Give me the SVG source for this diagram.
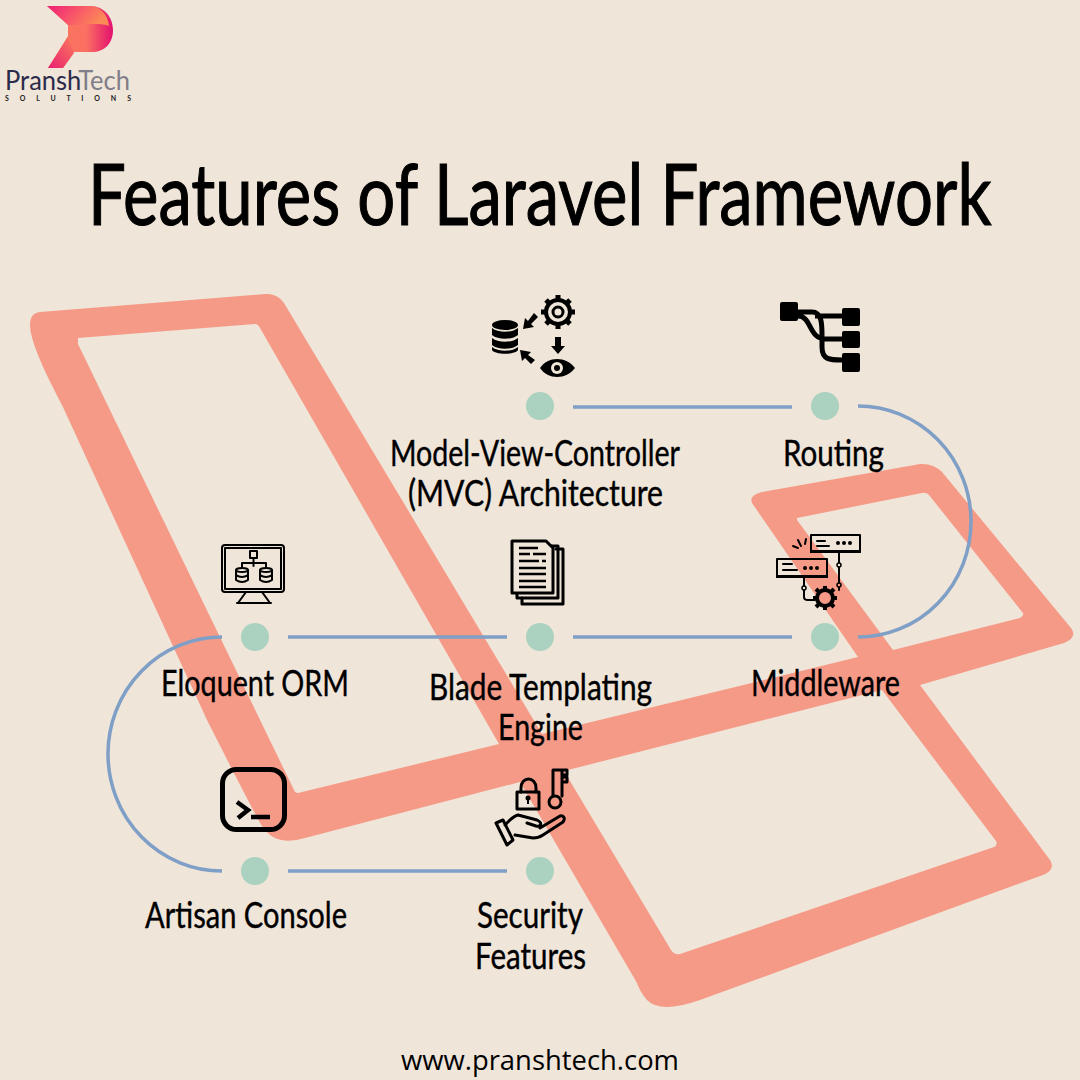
<svg xmlns="http://www.w3.org/2000/svg" width="1080" height="1080" viewBox="0 0 1080 1080">
<style>
.t{font-family:"Lato","Liberation Sans",sans-serif;fill:#000;stroke:#000;stroke-width:.4}
.l{font-size:36px;text-anchor:start}
.c{fill:none;stroke:#7f9fc6;stroke-width:3.5}
.d{fill:#abd2c0}
.i{fill:none;stroke:#000;stroke-width:3;stroke-linejoin:round;stroke-linecap:round}
.f{fill:#000}
</style>
<defs>
<linearGradient id="g0" x1="0" y1="0" x2="1" y2="0"><stop offset="0" stop-color="#fb7a5c"/><stop offset=".6" stop-color="#fa6f62"/><stop offset="1" stop-color="#e4106f"/></linearGradient>
<linearGradient id="g1" x1="0" y1="0" x2="1" y2="0.3"><stop offset="0" stop-color="#ef1f78"/><stop offset=".6" stop-color="#f95f66"/><stop offset="1" stop-color="#fb8a58"/></linearGradient>
<linearGradient id="g2" x1="0" y1="1" x2="1" y2="0"><stop offset="0" stop-color="#e91f72"/><stop offset="1" stop-color="#fb7a5c"/></linearGradient>
</defs>
<rect width="1080" height="1080" fill="#efe5d9"/>
<path id="laravel-shape" fill="#f69a88" fill-rule="evenodd" d="M40 312L265 294Q277 293 284 303L542 734L858 657L752 503Q749 495 762 492L920 464Q933 463 942 472L1071 628Q1078 637 1064 643L920 685L1050 860Q1056 870 1043 875L700 1000Q660 1014 647 1000Q640 992 637 983L520 782L305 838Q275 847 262 826Q255 815 207 720L62 405Q30 345 30 325Q30 313 40 312Z
M78 338L255 324Q258 324 260 328L499 744L298 793Q295 793 294 790L78 344Z
M797 518L922 493Q926 492 929 495L1023 613Q1024 616 1020 618L893 650L797 520Z
M564 771L882 690L996 841Q998 845 994 847L680 954Q674 955 671 950Z"/>
<g id="logo">
<path fill="url(#g0)" d="M47 6H90C105 6 113 18 113 30C113 44 104 52 92 52H74L63 68H48L68 36V25Z"/>
<path fill="url(#g1)" d="M47 6H90C100 6 108 15 109 26C100 22 85 25 68 25Z"/>
<path fill="url(#g2)" d="M48 68L68 37L74 53L63 68Z"/>
<text x="5" y="90" font-family="Lato,sans-serif" font-size="26" textLength="125" lengthAdjust="spacingAndGlyphs"><tspan fill="#2c2a4a">Pransh</tspan><tspan fill="#807e88">Tech</tspan></text>
<text x="5" y="101" font-family="Lato,sans-serif" font-size="7" font-weight="700" fill="#222" textLength="126">S O L U T I O N S</text>
</g>
<text transform="translate(88 225) scale(.85 1)" x="0" y="0" font-family="Lato,sans-serif" font-size="86" fill="#000" stroke="#000" stroke-width="1.2" textLength="1063" lengthAdjust="spacingAndGlyphs">Features of Laravel Framework</text>
<g id="connectors">
<path class="c" d="M573 407H792M288 637H507M573 637H792M288 871H507"/>
<path class="c" d="M858 406A113 115.500 0 0 1 858 637"/>
<path class="c" d="M222 637A114 117 0 0 0 222 871"/>
</g>
<g id="node-mvc">
<circle class="d" cx="540" cy="406" r="14"/>
<g class="f"><ellipse cx="505" cy="325" rx="13" ry="5"/><path d="M492 328c6 5 20 5 26 0v7c-6 5-20 5-26 0zM492 338c6 5 20 5 26 0v7c-6 5-20 5-26 0zM492 347c6 5 20 5 26 0v3c-3 5-23 5-26 0z"/>
<path d="M534 313l4 4-7 7 3 3-11 2 2-11 3 3zM555 337h6v9h4l-7 8-7-8h4zM535 360l-4 4-6-6-3 3-2-11 11 2-3 3z"/>
<path d="M540 368c8-12 26-12 35 0-9 12-27 12-35 0z"/></g>
<circle cx="557" cy="368" r="6" fill="#efe5d9"/><circle cx="557" cy="368" r="3" fill="#000"/>
<circle cx="558" cy="312" r="12" fill="none" stroke="#000" stroke-width="4"/><circle cx="558" cy="312" r="5" fill="none" stroke="#000" stroke-width="3"/>
<path d="M558 295v6M558 323v6M541 312h6M569 312h6M546 300l4 4M566 320l4 4M570 300l-4 4M550 320l-4 4" stroke="#000" stroke-width="5" fill="none"/>
<text class="t l" x="390" y="466" textLength="290" lengthAdjust="spacingAndGlyphs">Model-View-Controller</text>
<text class="t l" x="408" y="506" textLength="255" lengthAdjust="spacingAndGlyphs">(MVC) Architecture</text>
</g>
<g id="node-routing">
<circle class="d" cx="825" cy="406" r="14"/>
<g class="f"><rect x="780" y="302" width="18" height="19" rx="2"/><rect x="842" y="308" width="18" height="18" rx="2"/><rect x="842" y="331" width="18" height="17" rx="2"/><rect x="842" y="353" width="18" height="19" rx="2"/></g>
<path fill="none" stroke="#000" stroke-width="5" d="M798 312H812C822 312 822 325 822 335V347C822 360 830 360 842 360M815 316H842M820 339H842M798 316C812 316 808 339 826 339"/>
<text class="t l" x="783" y="466" textLength="101" lengthAdjust="spacingAndGlyphs">Routing</text>
</g>
<g id="node-eloquent">
<circle class="d" cx="255" cy="637" r="14"/>
<g class="i" style="stroke-width:2"><rect x="222" y="545" width="62" height="47" rx="3"/><rect x="225" y="548" width="56" height="41"/><path d="M246 592L238 603H270L262 592M237 603H271"/>
<rect x="250" y="551" width="7" height="7"/><path d="M253.500 558V566M242 563H266V568M242 563V568"/><ellipse cx="242" cy="570" rx="6" ry="2"/><path d="M236 570V580Q242 584 248 580V570M236 575Q242 579 248 575"/><ellipse cx="266" cy="570" rx="6" ry="2"/><path d="M260 570V580Q266 584 272 580V570M260 575Q266 579 272 575"/></g>
<text class="t l" x="161" y="696" textLength="188" lengthAdjust="spacingAndGlyphs">Eloquent ORM</text>
</g>
<g id="node-blade">
<circle class="d" cx="540" cy="637" r="14"/>
<g class="i"><path d="M556 549H563V604H522V598"/><path d="M551 546H558V598H517V593"/><path d="M512 541H546L553 548V593H512Z" fill="#efe5d9"/></g>
<path stroke="#000" stroke-width="2.500" d="M519 548H538M519 554H530M533 554H546M519 561H539M542 561H546M519 568H546M519 574H546M519 581H546M519 587H546"/>
<text class="t l" x="429" y="700" textLength="223" lengthAdjust="spacingAndGlyphs">Blade Templating</text>
<text class="t l" x="498" y="740" textLength="85" lengthAdjust="spacingAndGlyphs">Engine</text>
</g>
<g id="node-middleware">
<circle class="d" cx="825" cy="637" r="14"/>
<g class="i" style="stroke-width:2"><rect x="811" y="535" width="49" height="17"/><rect x="777" y="559" width="50" height="17"/><path d="M817 541H825M817 546H829M783 564H792M783 570H797M798 548l-5-2M801 546l-3-6M805 544l1-5"/><path d="M839 552V590M804 577V597Q804 600 808 600H815"/></g>
<g class="f"><rect x="810" y="550" width="51" height="3"/><rect x="776" y="575" width="52" height="3"/><circle cx="838" cy="543" r="2"/><circle cx="844" cy="543" r="2"/><circle cx="850" cy="543" r="2"/><circle cx="805" cy="568" r="2"/><circle cx="811" cy="568" r="2"/><circle cx="817" cy="568" r="2"/></g>
<circle cx="825" cy="598" r="8" fill="none" stroke="#000" stroke-width="4"/>
<path d="M825 586v5M825 605v5M813 598h5M832 598h5M816 589l3 3M831 604l3 3M834 589l-3 3M819 604l-3 3" stroke="#000" stroke-width="4"/>
<circle cx="839" cy="565" r="2" fill="#efe5d9" stroke="#000" stroke-width="1.500"/><circle cx="839" cy="585" r="2" fill="#f69a88" stroke="#000" stroke-width="1.500"/><circle cx="804" cy="588" r="2" fill="#efe5d9" stroke="#000" stroke-width="1.500"/>
<text class="t l" x="751" y="696" textLength="149" lengthAdjust="spacingAndGlyphs">Middleware</text>
</g>
<g id="node-artisan">
<circle class="d" cx="255" cy="871" r="14"/>
<rect x="222.500" y="769.500" width="62" height="60" rx="14" fill="none" stroke="#000" stroke-width="5"/>
<path d="M237 802L248 810L238 818" fill="none" stroke="#000" stroke-width="4.500"/><path d="M251 817H270" stroke="#000" stroke-width="4.500"/>
<text class="t l" x="145" y="928" textLength="202" lengthAdjust="spacingAndGlyphs">Artisan Console</text>
</g>
<g id="node-security">
<circle class="d" cx="540" cy="871" r="14"/>
<g class="i"><rect x="517" y="792" width="22" height="17"/><path d="M521 792V788C521 776 536 776 536 788V792"/><circle cx="555" cy="802" r="6"/><path d="M553 796V770H562V796M562 770H567V775H563M563 777H567V782H563"/>
<path d="M496 823L503 820L513 840L507 845ZM505 825C510 820 513 816 518 815L537 820C543 823 541 827 536 826L527 823M515 835L533 838C537 838 540 837 543 835L563 822C566 818 563 815 560 816L540 828"/></g>
<circle cx="528" cy="798" r="2.500" fill="#000"/><path d="M528 800v4" stroke="#000" stroke-width="2"/>
<text class="t l" x="477" y="928" textLength="106" lengthAdjust="spacingAndGlyphs">Security</text>
<text class="t l" x="475" y="969" textLength="111" lengthAdjust="spacingAndGlyphs">Features</text>
</g>
<text x="401" y="1070" font-family="Open Sans,sans-serif" font-size="27" fill="#000" textLength="278" lengthAdjust="spacingAndGlyphs">www.pranshtech.com</text>
</svg>
